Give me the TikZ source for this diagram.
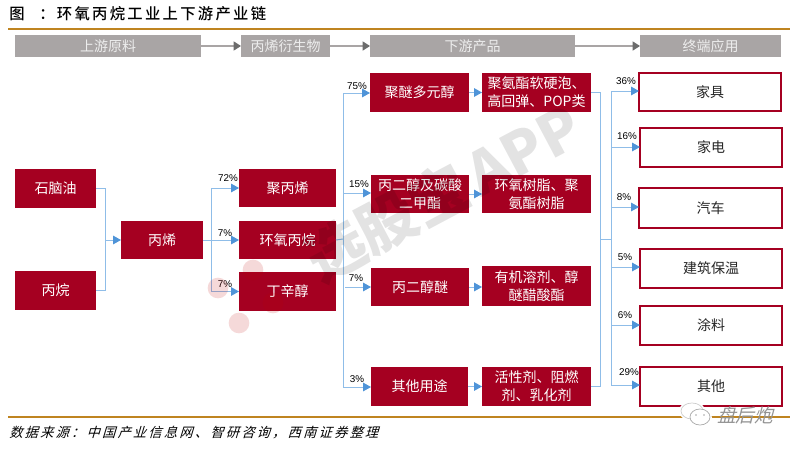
\documentclass[tikz,border=0pt]{standalone}
\usepackage{fontspec}
\setmainfont{Noto Sans CJK SC}
\newfontfamily\latinf{Liberation Sans}
\newfontfamily\titlef[LetterSpace=15]{Noto Sans CJK SC Medium}
\newfontfamily\footf[LetterSpace=16,FakeSlant=0.3]{Noto Sans CJK SC}
\newfontfamily\markf[FakeSlant=0.25]{Noto Sans CJK SC}
\usetikzlibrary{arrows.meta}
\definecolor{boxred}{HTML}{A50021}
\definecolor{headgray}{HTML}{A9A5A5}
\definecolor{headtext}{HTML}{EDEDED}
\definecolor{rulegold}{HTML}{BF8420}
\definecolor{linkblue}{HTML}{8FBDE8}
\definecolor{tipblue}{HTML}{4F94D8}
\tikzset{
  redbox/.style={fill=boxred,text=white,font=\fontsize{10.5}{13.5}\selectfont,align=center},
  whitebox/.style={draw=boxred,line width=.9pt,fill=white,text=black!85,font=\fontsize{10.5}{13.5}\selectfont},
  headbox/.style={fill=headgray,text=headtext,font=\fontsize{10.5}{13.5}\selectfont},
  link/.style={draw=linkblue,line width=.75pt},
  arrowlink/.style={link,-{Triangle[length=6pt,width=6.5pt,color=tipblue]}},
  headlink/.style={draw=headgray,line width=.9pt,-{Triangle[length=5.5pt,width=6.8pt,color=gray!85!black]}},
  pct/.style={font=\latinf\fontsize{7.4}{8}\selectfont,text=black,inner sep=0pt},
  goldrule/.style={draw=rulegold,line width=1.5pt},
  dot/.style={circle,fill=red!75!black,fill opacity=.15,draw=none,minimum size=15.5pt,inner sep=0pt}
}
\newcommand{\bx}[7]{\node[#7,inner sep=0pt,outer sep=0pt,minimum width={(#4-#2)*.75pt},minimum height={(#5-#3)*.75pt}] (#1) at ({(#2+#4)/2},{(#3+#5)/2}) {#6};}
\begin{document}
\begin{tikzpicture}[x=.75pt,y=-.75pt]
\useasboundingbox (0,0) rectangle (800,450);
% rules and captions
\coordinate (ta) at (8,29); \coordinate (tb) at (790,29);
\coordinate (ba) at (8,417); \coordinate (bb) at (790,417);
\draw[goldrule] (ta) -- (tb);
\draw[goldrule] (ba) -- (bb);
\node[anchor=west,inner sep=0pt,font=\titlef\fontsize{11.5}{14}\selectfont] (title) at (9,13.5) {图\hspace{11pt}：环氧丙烷工业上下游产业链};
\node[anchor=west,inner sep=0pt,font=\footf\fontsize{10}{12}\selectfont] (foot) at (9,433) {数据来源：中国产业信息网、智研咨询，西南证券整理};
% header row
\bx{h1}{15}{35}{201}{57}{上游原料}{headbox}
\bx{h2}{241}{35}{330}{57}{丙烯衍生物}{headbox}
\bx{h3}{370}{35}{575}{57}{下游产品}{headbox}
\bx{h4}{640}{35}{781}{57}{终端应用}{headbox}
\draw[headlink] (h1) -- (h2);
\draw[headlink] (h2) -- (h3);
\draw[headlink] (h3) -- (h4);
% boxes
\bx{naph}{15}{169}{96}{208}{石脑油}{redbox}
\bx{prop}{15}{271}{96}{310}{丙烷}{redbox}
\bx{propene}{121}{221}{203}{259}{丙烯}{redbox}
\bx{pp}{239}{169}{336}{207}{聚丙烯}{redbox}
\bx{po}{239}{221}{336}{259}{环氧丙烷}{redbox}
\bx{oxo}{239}{272}{336}{311}{丁辛醇}{redbox}
\bx{d1}{370}{73}{469}{112}{聚醚多元醇}{redbox}
\bx{d2}{371}{175}{469}{213}{丙二醇及碳酸\\二甲酯}{redbox}
\bx{d3}{371}{268}{469}{306}{丙二醇醚}{redbox}
\bx{d4}{371}{367}{468}{406}{其他用途}{redbox}
\bx{e1}{482}{73}{591}{112}{聚氨酯软硬泡、\\高回弹、POP类}{redbox}
\bx{e2}{482}{175}{591}{213}{环氧树脂、聚\\氨酯树脂}{redbox}
\bx{e3}{482}{266}{591}{306}{有机溶剂、醇\\醚醋酸酯}{redbox}
\bx{e4}{482}{367}{591}{406}{活性剂、阻燃\\剂、乳化剂}{redbox}
\bx{u1}{639}{73}{781}{111}{家具}{whitebox}
\bx{u2}{640}{128}{782}{167}{家电}{whitebox}
\bx{u3}{639}{188}{782}{228}{汽车}{whitebox}
\bx{u4}{640}{249}{782}{288}{建筑保温}{whitebox}
\bx{u5}{640}{306}{782}{345}{涂料}{whitebox}
\bx{u6}{640}{367}{782}{406}{其他}{whitebox}
% junctions
\coordinate (j1) at (105,240);
\coordinate (j2) at (211,240);
\coordinate (j3) at (343,239);
\coordinate (j3a) at (343,93);
\coordinate (j3b) at (343,193);
\coordinate (j3c) at (345,287);
\coordinate (j3d) at (343,387);
\coordinate (j4) at (600,239);
\coordinate (j5) at (611,239);
\coordinate (k1) at (611,91);
\coordinate (k2) at (611,147);
\coordinate (k3) at (611,207);
\coordinate (k4) at (611,267);
\coordinate (k5) at (611,325);
\coordinate (k6) at (611,385);
% connectors
\draw[link] (naph.east) -| (j1);
\draw[link] (prop.east) -| (j1);
\draw[arrowlink] (j1) -- (propene.west);
\draw[arrowlink] (propene.east) -- (propene.east -| po.west);
\draw[arrowlink] (j2) |- (pp.west);
\draw[arrowlink] (j2) |- (oxo.west);
\draw[link] (po.east) -- (j3);
\draw[link] (j3a) -- (j3d);
\draw[arrowlink] (j3a) -- (d1.west |- j3a);
\draw[arrowlink] (j3b) -- (d2.west |- j3b);
\draw[arrowlink] (j3c) -- (d3.west |- j3c);
\draw[arrowlink] (j3d) -- (d4.west |- j3d);
\draw[arrowlink] (d1.east) -- (e1.west);
\draw[arrowlink] (d2.east) -- (e2.west);
\draw[arrowlink] (d3.east) -- (e3.west |- d3.east);
\draw[arrowlink] (d4.east) -- (e4.west);
\draw[link] (e1.east) -| (j4);
\draw[link] (e4.east) -| (j4);
\draw[link] (j4) -- (j5);
\draw[link] (k1) -- (k6);
\draw[arrowlink] (k1) -- (u1.west |- k1);
\draw[arrowlink] (k2) -- (u2.west |- k2);
\draw[arrowlink] (k3) -- (u3.west |- k3);
\draw[arrowlink] (k4) -- (u4.west |- k4);
\draw[arrowlink] (k5) -- (u5.west |- k5);
\draw[arrowlink] (k6) -- (u6.west |- k6);
% percentages
\node[pct] (p1) at (228,178) {72\%};
\node[pct] (p2) at (225,233) {7\%};
\node[pct] (p3) at (225,284) {7\%};
\node[pct] (p4) at (357,86) {75\%};
\node[pct] (p5) at (359,184) {15\%};
\node[pct] (p6) at (356,278) {7\%};
\node[pct] (p7) at (357,379) {3\%};
\node[pct] (p8) at (626,81) {36\%};
\node[pct] (p9) at (627,136) {16\%};
\node[pct] (p10) at (624,197) {8\%};
\node[pct] (p11) at (625,257) {5\%};
\node[pct] (p12) at (625,315) {6\%};
\node[pct] (p13) at (629,372) {29\%};
% image watermark
\node[dot] (w1) at (218,288) {};
\node[dot] (w2) at (239,323) {};
\node[dot] (w3) at (253,270) {};
\node[dot] (w4) at (273,303) {};
\node[rotate=28,text=black,text opacity=.11,font=\bfseries\fontsize{44}{46}\selectfont,inner sep=0pt] (wm) at (443,193) {选股宝\hspace{5pt}APP};
% account mark
\fill[white] (692,411) ellipse (13 and 10);
\fill[white] (700,418) ellipse (12 and 11);
\draw[gray!40,line width=.5pt] (692,411) ellipse (11 and 8);
\draw[gray!70,fill=white,line width=.5pt] (700,417) ellipse (10 and 8);
\fill[gray!70] (696,415) circle (.9);
\fill[gray!70] (704,415) circle (.9);
\node[text=gray!85,inner sep=0pt,font=\markf\fontsize{14}{16}\selectfont] (acct) at (745,415) {盘后炮};
\end{tikzpicture}
\end{document}
